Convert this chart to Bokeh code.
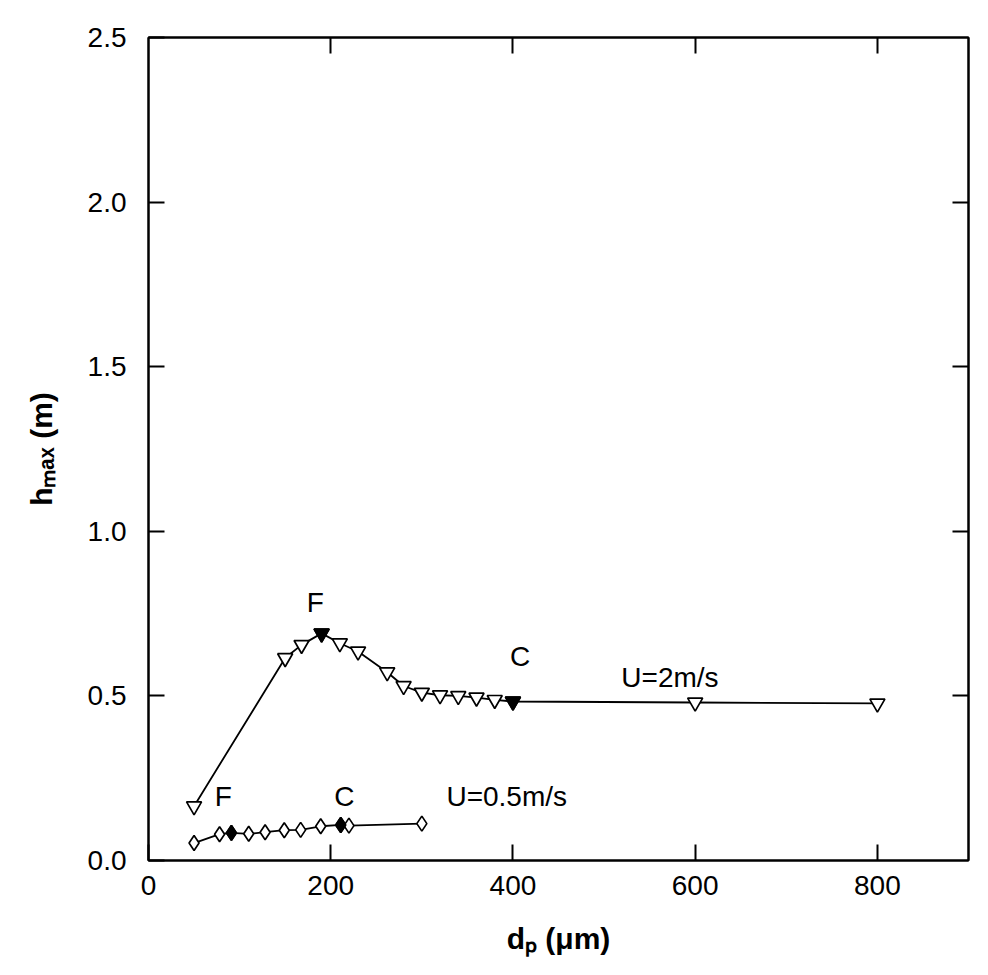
from bokeh.plotting import figure
from bokeh.models import Range1d, LinearAxis, FixedTicker, Label, ColumnDataSource
from bokeh.embed import file_html
from bokeh.resources import INLINE

# ---- data ----
# U = 2 m/s
dp_u2 = [50, 150, 168, 190, 210, 230, 262, 280, 300, 320, 340, 360, 380, 400, 600, 800]
h_u2 = [0.165, 0.615, 0.655, 0.69, 0.66, 0.635, 0.572, 0.53, 0.51, 0.502, 0.5, 0.495, 0.488, 0.483, 0.48, 0.477]
crit_u2 = [190, 400]          # F and C points (filled markers)

# U = 0.5 m/s
dp_u05 = [50, 78, 91, 110, 128, 149, 167, 189, 211, 220, 300]
h_u05 = [0.053, 0.08, 0.084, 0.081, 0.086, 0.092, 0.093, 0.104, 0.108, 0.106, 0.112]
crit_u05 = [91, 211]

x_ticks = [0, 200, 400, 600, 800]
y_ticks = [0.0, 0.5, 1.0, 1.5, 2.0, 2.5]

x_title = "d\u209a (\u03bcm)"
y_title = "h\u2098\u2090\u2093 (m)"

FONT = "Liberation Sans"

p = figure(width=972, height=959, output_backend="svg", toolbar_location=None,
           x_range=Range1d(0, 900), y_range=Range1d(0, 2.5),
           min_border_left=148, min_border_right=4, min_border_top=37, min_border_bottom=99)
p.grid.visible = False
p.outline_line_color = "black"
p.outline_line_width = 2
p.background_fill_color = "white"
p.border_fill_color = "white"

def style_axis(ax):
    ax.axis_line_width = 2
    ax.major_tick_line_width = 2
    ax.major_tick_in = 16
    ax.major_tick_out = 0
    ax.minor_tick_line_color = None
    ax.major_label_text_font = FONT
    ax.major_label_text_font_size = "28px"
    ax.major_label_text_color = "black"
    ax.axis_label_text_font = FONT
    ax.axis_label_text_font_size = "30px"
    ax.axis_label_text_font_style = "bold"
    ax.axis_label_text_color = "black"

xa = p.xaxis[0]
xa.ticker = FixedTicker(ticks=x_ticks)
style_axis(xa)
xa.major_label_standoff = 15
xa.axis_label = x_title
xa.axis_label_standoff = 24

ya = p.yaxis[0]
ya.ticker = FixedTicker(ticks=y_ticks)
ya.major_label_overrides = {t: f"{t:.1f}" for t in y_ticks}
style_axis(ya)
ya.major_label_standoff = 22
ya.axis_label = y_title
ya.axis_label_standoff = 27

top = LinearAxis(ticker=FixedTicker(ticks=x_ticks[1:]))
style_axis(top)
top.major_label_overrides = {t: "" for t in x_ticks[1:]}
top.major_label_standoff = 0
p.add_layout(top, "above")

right = LinearAxis(ticker=FixedTicker(ticks=y_ticks[1:-1]))
style_axis(right)
right.major_label_overrides = {t: "" for t in y_ticks[1:-1]}
right.major_label_standoff = 0
p.add_layout(right, "right")

# ---- series ----
s2 = ColumnDataSource(dict(x=dp_u2, y=h_u2))
s05 = ColumnDataSource(dict(x=dp_u05, y=h_u05))

p.line("x", "y", source=s2, line_color="black", line_width=1.8)
p.line("x", "y", source=s05, line_color="black", line_width=1.8)

p.scatter("x", "y", source=s2, marker="inverted_triangle", size=15,
          fill_color="white", line_color="black", line_width=1.7)
p.scatter("x", "y", source=s05, marker="diamond", size=15,
          fill_color="white", line_color="black", line_width=1.7)

c2 = ColumnDataSource(dict(x=crit_u2, y=[h_u2[dp_u2.index(v)] for v in crit_u2]))
c05 = ColumnDataSource(dict(x=crit_u05, y=[h_u05[dp_u05.index(v)] for v in crit_u05]))
p.scatter("x", "y", source=c2, marker="inverted_triangle", size=15,
          fill_color="black", line_color="black", line_width=1.7)
p.scatter("x", "y", source=c05, marker="diamond", size=15,
          fill_color="black", line_color="black", line_width=1.7)

# ---- annotations ----
def lab(x, y, text, align="left"):
    p.add_layout(Label(x=x, y=y, text=text, text_font=FONT, text_font_size="28px",
                       text_align=align, text_baseline="alphabetic",
                       text_color="black"))

lab(183, 0.785, "F", align="center")
lab(408, 0.62, "C", align="center")
lab(519, 0.556, "U=2m/s")
lab(82, 0.195, "F", align="center")
lab(215, 0.195, "C", align="center")
lab(327, 0.195, "U=0.5m/s")

open("out.html", "w").write(file_html(p, INLINE))
